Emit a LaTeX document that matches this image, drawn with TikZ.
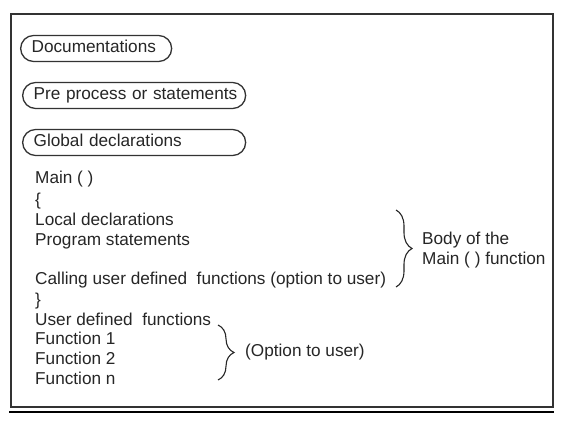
\documentclass[tikz,border=0pt]{standalone}
\usepackage{fontspec}
\setmainfont{Liberation Sans}
\usetikzlibrary{decorations.pathreplacing}
\begin{document}
\begin{tikzpicture}[x=1pt,y=-1pt,
  txt/.style={anchor=west,inner sep=0pt,text height=12pt,text depth=3.5pt,font=\fontsize{17.2}{20}\selectfont,text=black!85},
  pill/.style={draw=black!80,line width=1.3pt,rounded corners=13pt,minimum height=26pt,inner xsep=11pt,inner ysep=0pt,align=left,anchor=west,text height=12pt,text depth=3.5pt,font=\fontsize{17.2}{20}\selectfont,text=black!85},
  bracestyle/.style={draw=black!85,line width=1.1pt,decorate,decoration={brace,amplitude=#1}}]
\useasboundingbox (0,0) rectangle (564,430);
\fill[white] (0,0) rectangle (564,430);
% frame
\draw[black!80,line width=1.8pt] (11,14) rectangle (553,407);
\coordinate (l1) at (9,412);
\coordinate (l2) at (554,412);
\draw[black,line width=2.6pt] (l1) -- (l2);
% pills
\node[pill,text width=129pt] (doc) at (20,48.5) {\mbox{Documentations}};
\node[pill,text width=201pt] (pre) at (22,95.5) {\mbox{Pre process or statements}};
\node[pill,text width=201pt] (glob) at (22,142.5) {\mbox{Global declarations}};
% text lines
\node[txt] (main) at (35,179) {Main ( )};
\node[txt] (ob) at (35,201) {\{};
\node[txt] (loc) at (35,221) {Local declarations};
\node[txt] (prog) at (35,241) {Program statements};
\node[txt] (call) at (35,280) {Calling user defined\ \ functions (option to user)};
\node[txt] (cb) at (35,301) {\}};
\node[txt] (udf) at (35,321) {User defined\ \ functions};
\node[txt] (f1) at (35,340) {Function 1};
\node[txt] (f2) at (35,360) {Function 2};
\node[txt] (fn) at (35,380) {Function n};
% brace 1
\coordinate (b1t) at (396,210);
\coordinate (b1b) at (396,287);
\draw[bracestyle=16pt] (b1t) -- (b1b);
\node[txt] (body1) at (422,240) {Body of the};
\node[txt] (body2) at (422,260) {Main ( ) function};
% brace 2
\coordinate (b2t) at (218,325);
\coordinate (b2b) at (218,380);
\draw[bracestyle=16pt] (b2t) -- (b2b);
\node[txt] (opt) at (245,352) {(Option to user)};
\end{tikzpicture}
\end{document}
